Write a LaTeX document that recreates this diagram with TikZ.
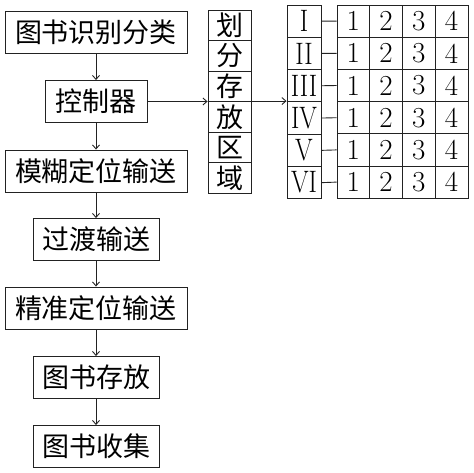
\documentclass[tikz,border=0pt]{standalone}
\usepackage{fontspec}
\newfontfamily\cjk{Noto Sans CJK SC}
\usepackage{graphicx}
\usepackage{tikz}
\usetikzlibrary{arrows.meta,positioning}
\definecolor{RuleInk}{HTML}{222222}

\tikzset{
  stepbox/.style={draw=RuleInk,line width=0.9pt,minimum height=42pt,inner sep=0pt,
    font=\cjk\fontsize{27}{27}\selectfont},
  zonecell/.style={draw=RuleInk,line width=0.9pt,minimum width=43pt,minimum height=30.5pt,
    inner sep=0pt,font=\cjk\fontsize{27}{27}\selectfont},
  romancell/.style={draw=RuleInk,line width=0.9pt,minimum width=34pt,minimum height=32.3pt,
    inner sep=0pt,font=\fontsize{31}{31}\selectfont},
  numcell/.style={draw=RuleInk,line width=0.9pt,minimum width=32.75pt,minimum height=32.2pt,
    inner sep=0pt,font=\fontsize{29}{29}\selectfont},
  flow/.style={draw=RuleInk,line width=0.9pt,-{Straight Barb[length=4pt,width=7pt]}}
}

\begin{document}
\begin{tikzpicture}[x=1pt,y=-1pt]
  \useasboundingbox (0,0) rectangle (474,472);
  \node[stepbox,minimum width=182pt] (classify) at (96,32.5) {图书识别分类};
  \node[stepbox,minimum width=102pt] (ctrl) at (96,101.5) {控制器};
  \node[stepbox,minimum width=182pt] (fuzzy) at (96,171) {模糊定位输送};
  \node[stepbox,minimum width=126pt] (transit) at (96,239.5) {过渡输送};
  \node[stepbox,minimum width=182pt] (precise) at (96,308) {精准定位输送};
  \node[stepbox,minimum width=126pt] (store) at (96,377.5) {图书存放};
  \node[stepbox,minimum width=126pt] (collect) at (96,446.5) {图书收集};
  \draw[flow] (classify) -- (ctrl);
  \draw[flow] (ctrl) -- (fuzzy);
  \draw[flow] (fuzzy) -- (transit);
  \draw[flow] (transit) -- (precise);
  \draw[flow] (precise) -- (store);
  \draw[flow] (store) -- (collect);

  \foreach \t [count=\i] in {划,分,存,放,区,域}
    \node[zonecell] (zone\i) at (229.5,{10+30.5*(\i-0.5)}) {\t};
  \draw[flow] (ctrl.east) -- (ctrl.east -| zone1.west);

  \foreach \r [count=\i] in {I,II,III,IV,V,VI}
    \node[romancell] (r\i) at (304,{5+32.3*(\i-0.5)}) {\scalebox{0.82}[1]{\r}};
  \draw[flow] (zone4.north east) -- (zone4.north east -| r4.west);

  \foreach \i in {1,...,6} {
    \foreach \j in {1,...,4}
      \node[numcell] (c\i\j) at ({337+32.75*(\j-0.5)},{5+32.2*(\i-0.5)}) {\j};
    \draw[draw=RuleInk,line width=0.9pt] (r\i.east) -- (c\i1.west);
  }
\end{tikzpicture}
\end{document}
